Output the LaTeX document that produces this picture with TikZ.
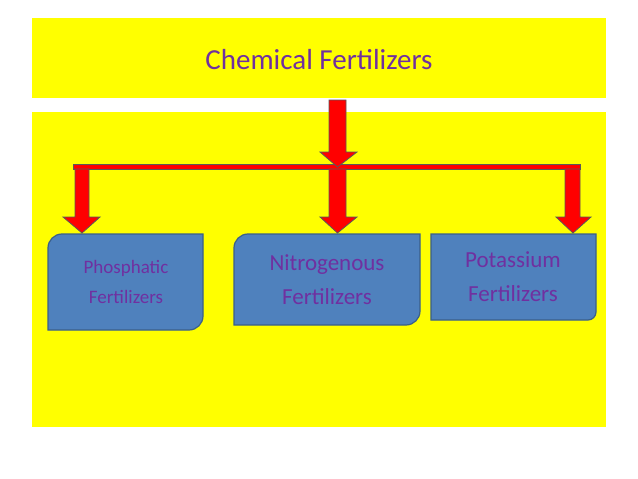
\documentclass[tikz,border=0pt]{standalone}
\usepackage{fontspec}
\setmainfont{Carlito}
\definecolor{yel}{HTML}{FFFF00}
\definecolor{pur}{HTML}{7030A0}
\definecolor{bfill}{HTML}{4F81BD}
\definecolor{bline}{HTML}{3A5F8A}
\tikzset{
  box/.style={fill=bfill,draw=bline,line width=1.2pt},
  lbl/.style={text=pur,align=center,inner sep=0pt},
  redarr/.style={fill=red,draw=gray!70!black,line width=0.8pt,line join=miter},
}
\begin{document}
\begin{tikzpicture}[x=1pt,y=-1pt]
\useasboundingbox (0,0) rectangle (638,479);
\fill[white] (0,0) rectangle (638,479);
\fill[yel] (32,18) rectangle (606,98);
\fill[yel] (32,112) rectangle (606,427);
\node[lbl,font=\fontsize{29}{32}\selectfont] (title) at (319,60) {Chemical Fertilizers};
% boxes
\coordinate (bA) at (48,234); \coordinate (bB) at (234,234); \coordinate (bC) at (431,234);
\draw[box] (48,330) -- (48,248) arc(180:270:14) -- (203,234) -- (203,316) arc(0:90:14) -- cycle;
\draw[box] (234,325) -- (234,248) arc(180:270:14) -- (420,234) -- (420,311) arc(0:90:14) -- cycle;
\draw[box] (431,320) -- (431,234) -- (596,234) -- (596,312) arc(0:90:8) -- cycle;
\node[lbl,font=\fontsize{19}{30}\selectfont] (p) at (126,282) {Phosphatic\\Fertilizers};
\node[lbl,font=\fontsize{23}{34}\selectfont] (n) at (327,280) {Nitrogenous\\Fertilizers};
\node[lbl,font=\fontsize{23}{34}\selectfont] (k) at (513,277) {Potassium\\Fertilizers};
% bar
\draw[redarr] (73,164) rectangle (580,169);
% top arrow
\draw[redarr] (329,100) -- (346,100) -- (346,152) -- (357,152) -- (337.5,167) -- (320,152) -- (329,152) -- cycle;
% lower arrows
\draw[redarr] (75,169) -- (89,169) -- (89,217) -- (100,217) -- (82,233) -- (63,217) -- (75,217) -- cycle;
\draw[redarr] (329,169) -- (346,169) -- (346,217) -- (357,217) -- (337.5,233) -- (320,217) -- (329,217) -- cycle;
\draw[redarr] (565,169) -- (580,169) -- (580,217) -- (591,217) -- (573,233) -- (556,217) -- (565,217) -- cycle;
\end{tikzpicture}
\end{document}
